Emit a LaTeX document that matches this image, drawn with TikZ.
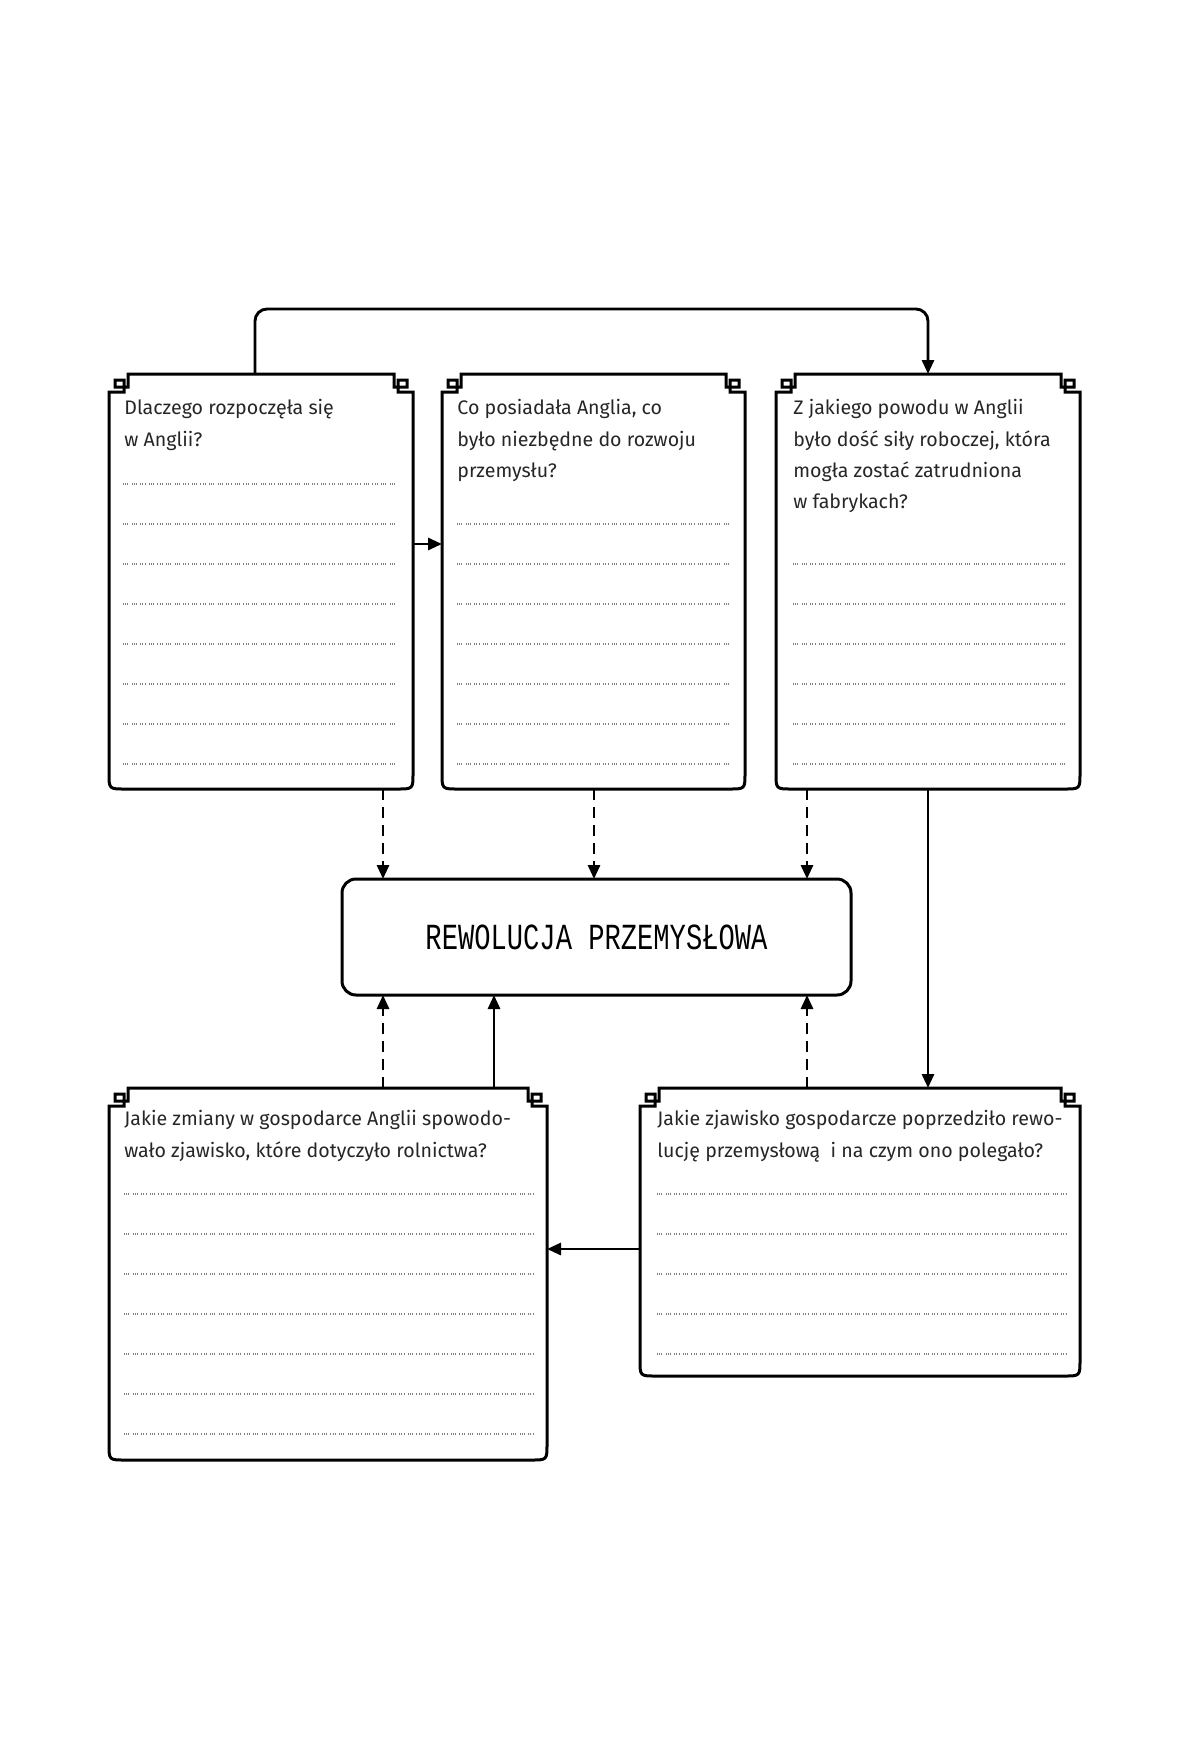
\documentclass[tikz,border=0pt]{standalone}
\usepackage{fontspec}
\setmainfont{Fira Sans}
\newfontfamily\titlefont{Liberation Mono}
\usetikzlibrary{arrows.meta,calc}
\tikzset{
  boxline/.style={line width=1.5pt, line join=miter},
  conn/.style={line width=1.45pt, -{Triangle[length=7pt,width=6pt]}},
  dconn/.style={conn, dash pattern=on 5.5pt off 3.5pt},
  dotline/.style={line width=0.55pt, black!50, dash pattern=on 0.5pt off 0.6pt on 0.5pt off 0.6pt on 0.5pt off 1.6pt},
  qtext/.style={align=left, inner sep=0pt, anchor=north west, text=black!85, font=\fontsize{9.8}{15.7}\selectfont},
}
\newcommand\orbox[5]{%
  \draw[boxline] (#2+19,#3+13) -- (#2+19,#3) -- (#4-19,#3) -- (#4-19,#3+13) -- (#4-6,#3+13) -- (#4-6,#3+6) -- (#4-15,#3+6) -- (#4-15,#3+18) -- (#4,#3+18) -- (#4,#5-16) .. controls (#4,#5) .. (#4-16,#5) -- (#2+16,#5) .. controls (#2,#5) .. (#2,#5-16) -- (#2,#3+18) -- (#2+15,#3+18) -- (#2+15,#3+6) -- (#2+6,#3+6) -- (#2+6,#3+13) -- cycle;
  \node[inner sep=0pt, outer sep=0pt, anchor=north west, minimum width={(#4-#2)*0.5pt}, minimum height={(#5-#3)*0.5pt}] (#1) at (#2,#3) {};
}
\begin{document}
\begin{tikzpicture}[x=0.5pt,y=-0.5pt]
\useasboundingbox (0,0) rectangle (1200,1741);
\fill[white] (0,0) rectangle (1200,1741);

% boxes
\orbox{b1}{109}{374}{413}{789}
\orbox{b2}{442}{374}{745}{789}
\orbox{b3}{776}{374}{1080}{789}
\orbox{b4}{109}{1088}{547}{1460}
\orbox{b5}{640}{1088}{1080}{1376}

\node[draw, line width=1.5pt, rounded corners=7pt, minimum width=254.5pt, minimum height=58pt, inner sep=0pt, outer sep=0pt] (cen) at (596.5,937)
  {\resizebox{171pt}{12.3pt}{\titlefont REWOLUCJA PRZEMYSŁOWA}};

% texts
\node[qtext] (q1) at (124,399) {Dlaczego rozpoczęła się\\w Anglii?};
\node[qtext] (q2) at (457,399) {Co posiadała Anglia, co\\było niezbędne do rozwoju\\przemysłu?};
\node[qtext] (q3) at (793,399) {Z jakiego powodu w Anglii\\było dość siły roboczej, która\\mogła zostać zatrudniona\\w fabrykach?};
\node[qtext] (q4) at (124,1110) {Jakie zmiany w gospodarce Anglii spowodo-\\wało zjawisko, które dotyczyło rolnictwa?};
\node[qtext] (q5) at (657,1110) {Jakie zjawisko gospodarcze poprzedziło rewo-\\lucję przemysłową\ \ i na czym ono polegało?};

% dotted answer lines
\foreach \y in {484,524,564,604,644,684,724,764} \draw[dotline] (123,\y) -- (397,\y);
\foreach \y in {524,564,604,644,684,724,764} \draw[dotline] (457,\y) -- (729,\y);
\foreach \y in {564,604,644,684,724,764} \draw[dotline] (793,\y) -- (1066,\y);
\foreach \y in {1194,1234,1274,1314,1354,1394,1434} \draw[dotline] (124,\y) -- (533,\y);
\foreach \y in {1194,1234,1274,1314,1354} \draw[dotline] (657,\y) -- (1066,\y);

% connectors
\draw[conn, rounded corners=6pt] ($(b1.north west)+(146,0)$) -- ++(0,-65) -| ($(b3.north west)+(152,0)$);
\draw[conn] ($(b1.north east)+(0,170)$) -- ($(b2.north west)+(0,170)$);
\draw[dconn] ($(b1.south west)+(274,0)$) -- ($(cen.north west)+(41,0)$);
\draw[dconn] ($(b2.south west)+(152,0)$) -- ($(cen.north west)+(252,0)$);
\draw[dconn] ($(b3.south west)+(31,0)$) -- ($(cen.north west)+(465,0)$);
\draw[conn] ($(b3.south west)+(152,0)$) -- ($(b5.north west)+(288,0)$);
\draw[dconn] ($(b4.north west)+(274,0)$) -- ($(cen.south west)+(41,0)$);
\draw[conn] ($(b4.north west)+(385,0)$) -- ($(cen.south west)+(152,0)$);
\draw[dconn] ($(b5.north west)+(167,0)$) -- ($(cen.south west)+(465,0)$);
\draw[conn] ($(b5.north west)+(0,161)$) -- ($(b4.north east)+(0,161)$);
\end{tikzpicture}
\end{document}
